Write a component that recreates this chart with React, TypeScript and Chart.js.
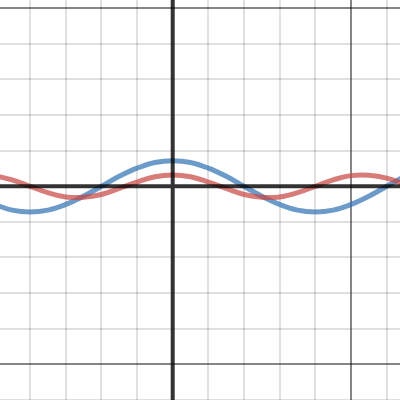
import React, { useEffect, useRef } from "react";
import { Chart, registerables } from "chart.js";

Chart.register(...registerables);

const xValues = [-5, -4.5, -4, -3.5, -3, -2.5, -2, -1.5, -1, -0.5, 0, 0.5, 1, 1.5, 2, 2.5, 3, 3.5, 4, 4.5, 5, 5.5, 6, 6.5];
const blueValues = [-0.51, -0.67, -0.72, -0.67, -0.51, -0.28, 0, 0.28, 0.51, 0.67, 0.72, 0.67, 0.51, 0.28, 0, -0.28, -0.51, -0.67, -0.72, -0.67, -0.51, -0.28, 0, 0.28];
const redValues = [0.3, 0.18, 0, -0.18, -0.3, -0.31, -0.23, -0.06, 0.12, 0.27, 0.32, 0.27, 0.12, -0.06, -0.23, -0.31, -0.3, -0.18, 0, 0.18, 0.3, 0.31, 0.23, 0.06];

const xMin = -4.843;
const xMax = 6.374;
const yMin = -6.003;
const yMax = 5.233;

function gridColor(ctx: any) {
  const v = Math.round(ctx.tick ? ctx.tick.value : 1);
  if (v === 0) return "rgba(0,0,0,0)";
  if (v % 5 === 0) return "rgba(0,0,0,0.48)";
  return "rgba(0,0,0,0.12)";
}

const axisPlugin = {
  id: "axesOnTop",
  afterDatasetsDraw(chart: any) {
    const { ctx, chartArea, scales } = chart;
    const x0 = scales.x.getPixelForValue(0);
    const y0 = scales.y.getPixelForValue(0);
    ctx.save();
    ctx.strokeStyle = "rgba(0,0,0,0.8)";
    ctx.lineWidth = 4;
    ctx.beginPath();
    ctx.moveTo(x0, chartArea.top);
    ctx.lineTo(x0, chartArea.bottom);
    ctx.moveTo(chartArea.left, y0);
    ctx.lineTo(chartArea.right, y0);
    ctx.stroke();
    ctx.restore();
  },
};

export default function App() {
  const ref = useRef<HTMLCanvasElement>(null);
  useEffect(() => {
    if (!ref.current) return;
    const chart = new Chart(ref.current, {
      type: "line",
      data: {
        datasets: [
          {
            label: "red",
            data: xValues.map((x, i) => ({ x, y: redValues[i] })),
            borderColor: "rgba(199,68,64,0.7)",
            borderWidth: 5,
            pointRadius: 0,
            tension: 0.4,
            fill: false,
          },
          {
            label: "blue",
            data: xValues.map((x, i) => ({ x, y: blueValues[i] })),
            borderColor: "rgba(45,112,179,0.7)",
            borderWidth: 5,
            pointRadius: 0,
            tension: 0.4,
            fill: false,
          },
        ],
      },
      options: {
        animation: false,
        responsive: false,
        maintainAspectRatio: false,
        layout: { padding: 0, autoPadding: false },
        plugins: { legend: { display: false }, tooltip: { enabled: false } },
        scales: {
          x: {
            type: "linear",
            min: xMin,
            max: xMax,
            ticks: { display: false, stepSize: 1, includeBounds: false },
            border: { display: false },
            grid: { drawTicks: false, tickLength: 0, color: gridColor, lineWidth: 2 },
          },
          y: {
            type: "linear",
            min: yMin,
            max: yMax,
            ticks: { display: false, stepSize: 1, includeBounds: false },
            border: { display: false },
            grid: { drawTicks: false, tickLength: 0, color: gridColor, lineWidth: 2 },
          },
        },
      },
      plugins: [axisPlugin],
    });
    return () => chart.destroy();
  }, []);
  return (
    <div style={{ position: "fixed", left: 0, top: 0, width: 400, height: 400, background: "#fff" }}>
      <canvas ref={ref} width={400} height={400} style={{ width: 400, height: 400, display: "block" }} />
    </div>
  );
}
